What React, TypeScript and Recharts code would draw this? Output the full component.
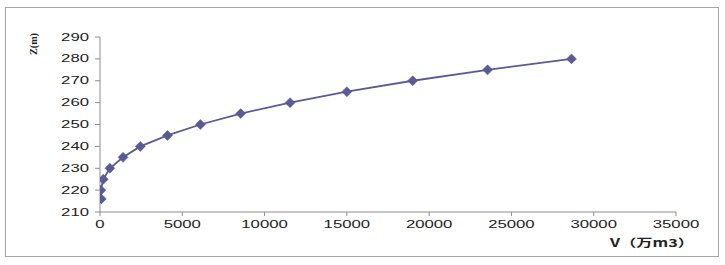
import { LineChart, Line, XAxis, YAxis } from 'recharts';

// Storage volume (10^4 m3) vs. water level Z (m)
const volumes = [80, 50, 200, 600, 1400, 2450, 4100, 6100, 8550, 11550, 15000, 19000, 23550, 28650];
const levels = [216, 220, 225, 230, 235, 240, 245, 250, 255, 260, 265, 270, 275, 280];
const xTicks = [0, 5000, 10000, 15000, 20000, 25000, 30000, 35000];
const yTicks = [210, 220, 230, 240, 250, 260, 270, 280, 290];

const data = volumes.map((v, i) => ({ v, z: levels[i] }));

const LINE = '#5a5a96';
const AXIS = '#8c8c8c';
const CHAR_W = 9.3;

function Diamond(props: any) {
  const { cx, cy } = props;
  if (cx == null || cy == null) return null;
  const r = 5;
  return (
    <path
      d={`M${cx},${cy - r}L${cx + r},${cy}L${cx},${cy + r}L${cx - r},${cy}Z`}
      fill={LINE}
      stroke={LINE}
      strokeWidth={0.5}
    />
  );
}

function YTick(props: any) {
  const { x, y, payload } = props;
  const s = String(payload.value);
  return (
    <text
      x={x - 4}
      y={y + 3.5}
      textAnchor="end"
      fontSize={10}
      fontFamily="'Liberation Sans', Arial, sans-serif"
      fill="#222"
      textLength={s.length * CHAR_W}
      lengthAdjust="spacingAndGlyphs"
    >
      {s}
    </text>
  );
}

function XTick(props: any) {
  const { x, y, payload } = props;
  const s = String(payload.value);
  return (
    <text
      x={x}
      y={y + 10}
      textAnchor="middle"
      fontSize={10}
      fontFamily="'Liberation Sans', Arial, sans-serif"
      fill="#222"
      textLength={s.length * CHAR_W}
      lengthAdjust="spacingAndGlyphs"
    >
      {s}
    </text>
  );
}

export default function App() {
  return (
    <div style={{ position: 'absolute', left: 0, top: 0, width: 725, height: 265, background: '#fff' }}>
      <div
        style={{
          position: 'absolute', left: 5, top: 7, width: 714, height: 250,
          border: '1px solid #a6a6a6', boxSizing: 'border-box',
        }}
      />
      <div style={{ position: 'absolute', left: 0, top: 0 }}>
        <LineChart width={725} height={265} data={data} margin={{ top: 37, right: 49, bottom: 23, left: 40 }}>
          <XAxis
            type="number"
            dataKey="v"
            domain={[0, 35000]}
            ticks={xTicks}
            interval={0}
            height={30}
            stroke={AXIS}
            tickSize={4}
            tick={<XTick />}
            allowDataOverflow
          />
          <YAxis
            type="number"
            dataKey="z"
            domain={[210, 290]}
            ticks={yTicks}
            interval={0}
            width={60}
            stroke={AXIS}
            tickSize={5}
            tick={<YTick />}
            allowDataOverflow
          />
          <Line
            type="linear"
            dataKey="z"
            stroke={LINE}
            strokeWidth={1.8}
            dot={<Diamond />}
            activeDot={false}
            isAnimationActive={false}
          />
        </LineChart>
      </div>
      <svg width={725} height={265} style={{ position: 'absolute', left: 0, top: 0, pointerEvents: 'none' }}>
        <text
          transform="translate(37,44) rotate(-90)"
          textAnchor="middle"
          fontSize={11}
          fontWeight="bold"
          fontFamily="'Liberation Serif', serif"
          fill="#222"
          textLength={22}
          lengthAdjust="spacingAndGlyphs"
        >
          Z(m)
        </text>
        <text
          x={610}
          y={247}
          fontSize={11}
          fontWeight="bold"
          fontFamily="'Noto Sans CJK SC', sans-serif"
          fill="#222"
          textLength={84}
          lengthAdjust="spacingAndGlyphs"
        >
          V（万m3）
        </text>
      </svg>
    </div>
  );
}
